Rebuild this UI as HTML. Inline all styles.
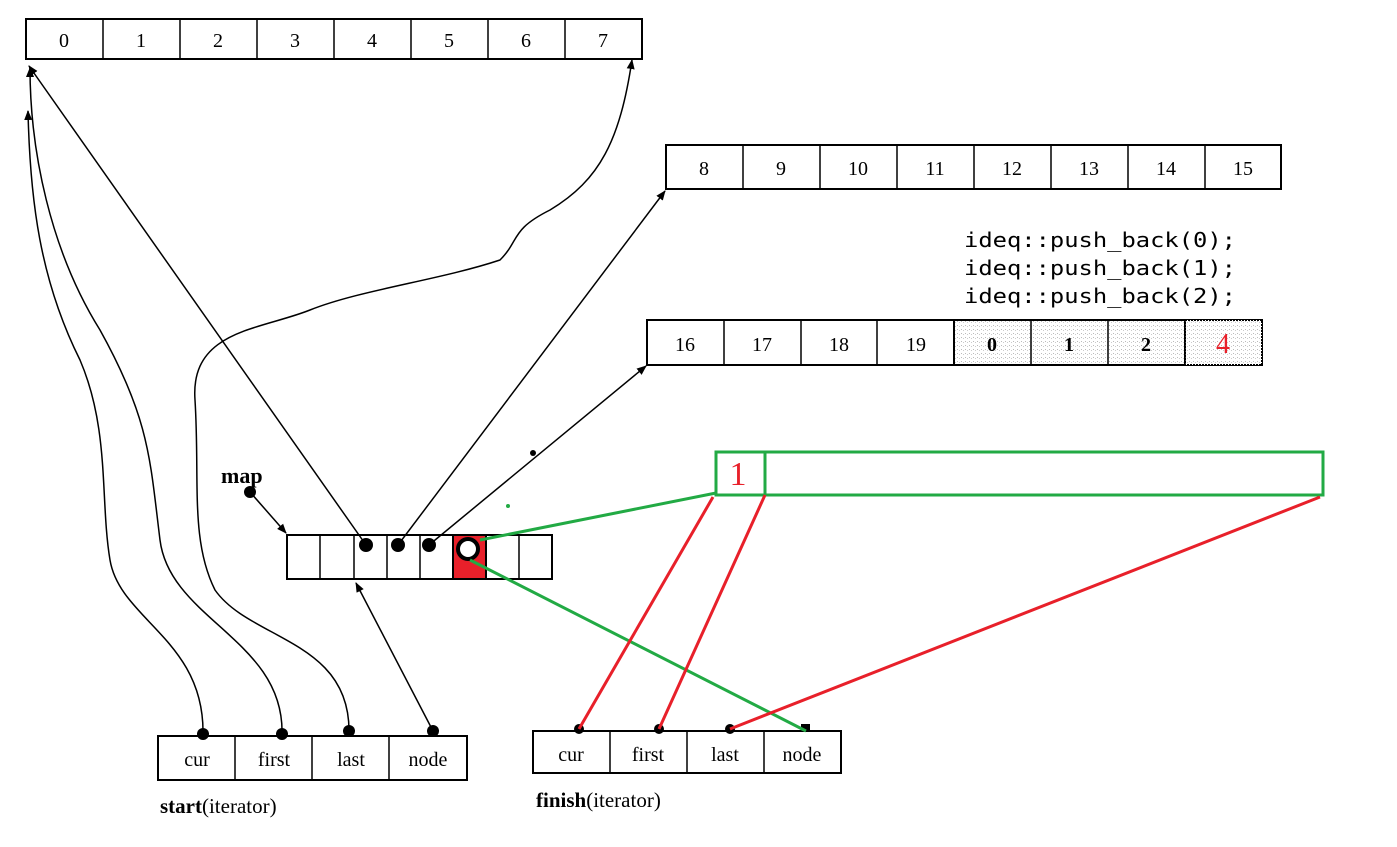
<!DOCTYPE html>
<html><head><style>body{margin:0;background:#fff}svg{display:block}</style></head><body>
<svg width="1397" height="847" viewBox="0 0 1397 847" xmlns="http://www.w3.org/2000/svg" font-family="Liberation Serif, serif">
<defs><marker id="a" markerWidth="10" markerHeight="10" refX="9" refY="5" orient="auto" markerUnits="userSpaceOnUse"><path d="M0,1 L10,5 L0,9z" fill="#000"/></marker>
<pattern id="dots" width="4" height="4" patternUnits="userSpaceOnUse"><rect width="4" height="4" fill="#fff"/><rect x="1" y="1" width="1" height="1" fill="#bbb"/><rect x="3" y="2" width="1" height="1" fill="#ccc"/></pattern></defs>
<g stroke="#000" stroke-width="2" fill="#fff">
<rect x="26" y="19" width="616" height="40"/>
<rect x="666" y="145" width="615" height="44"/>
<rect x="647" y="320" width="615" height="45"/>
<rect x="954" y="320" width="231" height="45" fill="url(#dots)"/>
<rect x="1185" y="320" width="77" height="45" fill="url(#dots)" stroke-dasharray="2,1"/>
<rect x="287" y="535" width="265" height="44"/>
<rect x="453" y="535" width="33" height="44" fill="#e8202a"/>
<rect x="158" y="736" width="309" height="44"/>
<rect x="533" y="731" width="308" height="42"/>
</g>
<g stroke="#000" stroke-width="1.5">
<path d="M103,19V59M180,19V59M257,19V59M334,19V59M411,19V59M488,19V59M565,19V59"/>
<path d="M743,145V189M820,145V189M897,145V189M974,145V189M1051,145V189M1128,145V189M1205,145V189"/>
<path d="M724,320V365M801,320V365M877,320V365M954,320V365M1031,320V365M1108,320V365M1185,320V365"/>
<path d="M320,535V579M354,535V579M387,535V579M420,535V579M453,535V579M486,535V579M519,535V579"/>
<path d="M235,736V780M312,736V780M389,736V780M610,731V773M687,731V773M764,731V773"/>
</g>
<g font-size="20" text-anchor="middle">
<text x="64" y="47">0</text><text x="141" y="47">1</text><text x="218" y="47">2</text><text x="295" y="47">3</text><text x="372" y="47">4</text><text x="449" y="47">5</text><text x="526" y="47">6</text><text x="603" y="47">7</text>
<text x="704" y="175">8</text><text x="781" y="175">9</text><text x="858" y="175">10</text><text x="935" y="175">11</text><text x="1012" y="175">12</text><text x="1089" y="175">13</text><text x="1166" y="175">14</text><text x="1243" y="175">15</text>
<text x="685" y="351">16</text><text x="762" y="351">17</text><text x="839" y="351">18</text><text x="916" y="351">19</text><text x="992" y="351" font-weight="bold">0</text><text x="1069" y="351" font-weight="bold">1</text><text x="1146" y="351" font-weight="bold">2</text>
<text x="1223" y="353" fill="#e8202a" font-size="28">4</text>
<text x="197" y="766">cur</text><text x="274" y="766">first</text><text x="351" y="766">last</text><text x="428" y="766">node</text>
<text x="571" y="761">cur</text><text x="648" y="761">first</text><text x="725" y="761">last</text><text x="802" y="761">node</text>
</g>
<g font-family="DejaVu Sans Mono, monospace" font-size="20" fill="#000">
<text x="964" y="247" textLength="272" lengthAdjust="spacingAndGlyphs">ideq::push_back(0);</text><text x="964" y="275" textLength="272" lengthAdjust="spacingAndGlyphs">ideq::push_back(1);</text><text x="964" y="303" textLength="272" lengthAdjust="spacingAndGlyphs">ideq::push_back(2);</text>
</g>
<text x="221" y="483" font-size="22" font-weight="bold">map</text>
<text x="160" y="813" font-size="21"><tspan font-weight="bold">start</tspan>(iterator)</text>
<text x="536" y="807" font-size="21"><tspan font-weight="bold">finish</tspan>(iterator)</text>
<g stroke="#000" stroke-width="1.5" fill="none">
<path d="M250,492L286,533" marker-end="url(#a)"/>
<path d="M366,545L29,66" marker-end="url(#a)"/>
<path d="M398,545L665,191" marker-end="url(#a)"/>
<path d="M429,545L646,366" marker-end="url(#a)"/>
<path d="M433,731L356,583" marker-end="url(#a)"/>
<path d="M203,735C205,640 120,620 110,560 C100,500 110,430 80,360 C40,280 30,200 28,111" marker-end="url(#a)"/>
<path d="M282,735C285,640 170,620 160,540 C150,460 150,420 100,330 C50,250 30,150 30,68" marker-end="url(#a)"/>
<path d="M349,732C350,640 250,640 215,590 C190,540 200,480 195,400 C190,330 260,330 310,310 C360,290 440,280 500,260 C520,240 510,230 550,210 C600,180 620,140 632,60" marker-end="url(#a)"/>
</g>
<g fill="#000"><circle cx="250" cy="492" r="6"/><circle cx="366" cy="545" r="7"/><circle cx="398" cy="545" r="7"/><circle cx="429" cy="545" r="7"/>
<circle cx="203" cy="734" r="6"/><circle cx="282" cy="734" r="6"/><circle cx="349" cy="731" r="6"/><circle cx="433" cy="731" r="6"/>
<circle cx="579" cy="729" r="5"/><circle cx="659" cy="729" r="5"/><circle cx="730" cy="729" r="5"/><rect x="801" y="724" width="9" height="7"/><circle cx="533" cy="453" r="3"/></g>
<circle cx="468" cy="549" r="10" fill="#fff" stroke="#000" stroke-width="4"/>
<rect x="716" y="452" width="607" height="43" fill="none" stroke="#22aa44" stroke-width="3"/>
<path d="M765,452V495" stroke="#22aa44" stroke-width="3"/>
<text x="738" y="485" font-size="34" fill="#e8202a" text-anchor="middle">1</text>
<g stroke="#22aa44" stroke-width="3"><path d="M480,540L716,493M470,560L806,731"/></g>
<circle cx="508" cy="506" r="2" fill="#22aa44"/>
<g stroke="#e8202a" stroke-width="3"><path d="M713,497L579,729M765,495L659,729M1320,497L730,729"/></g>
</svg>
</body></html>
